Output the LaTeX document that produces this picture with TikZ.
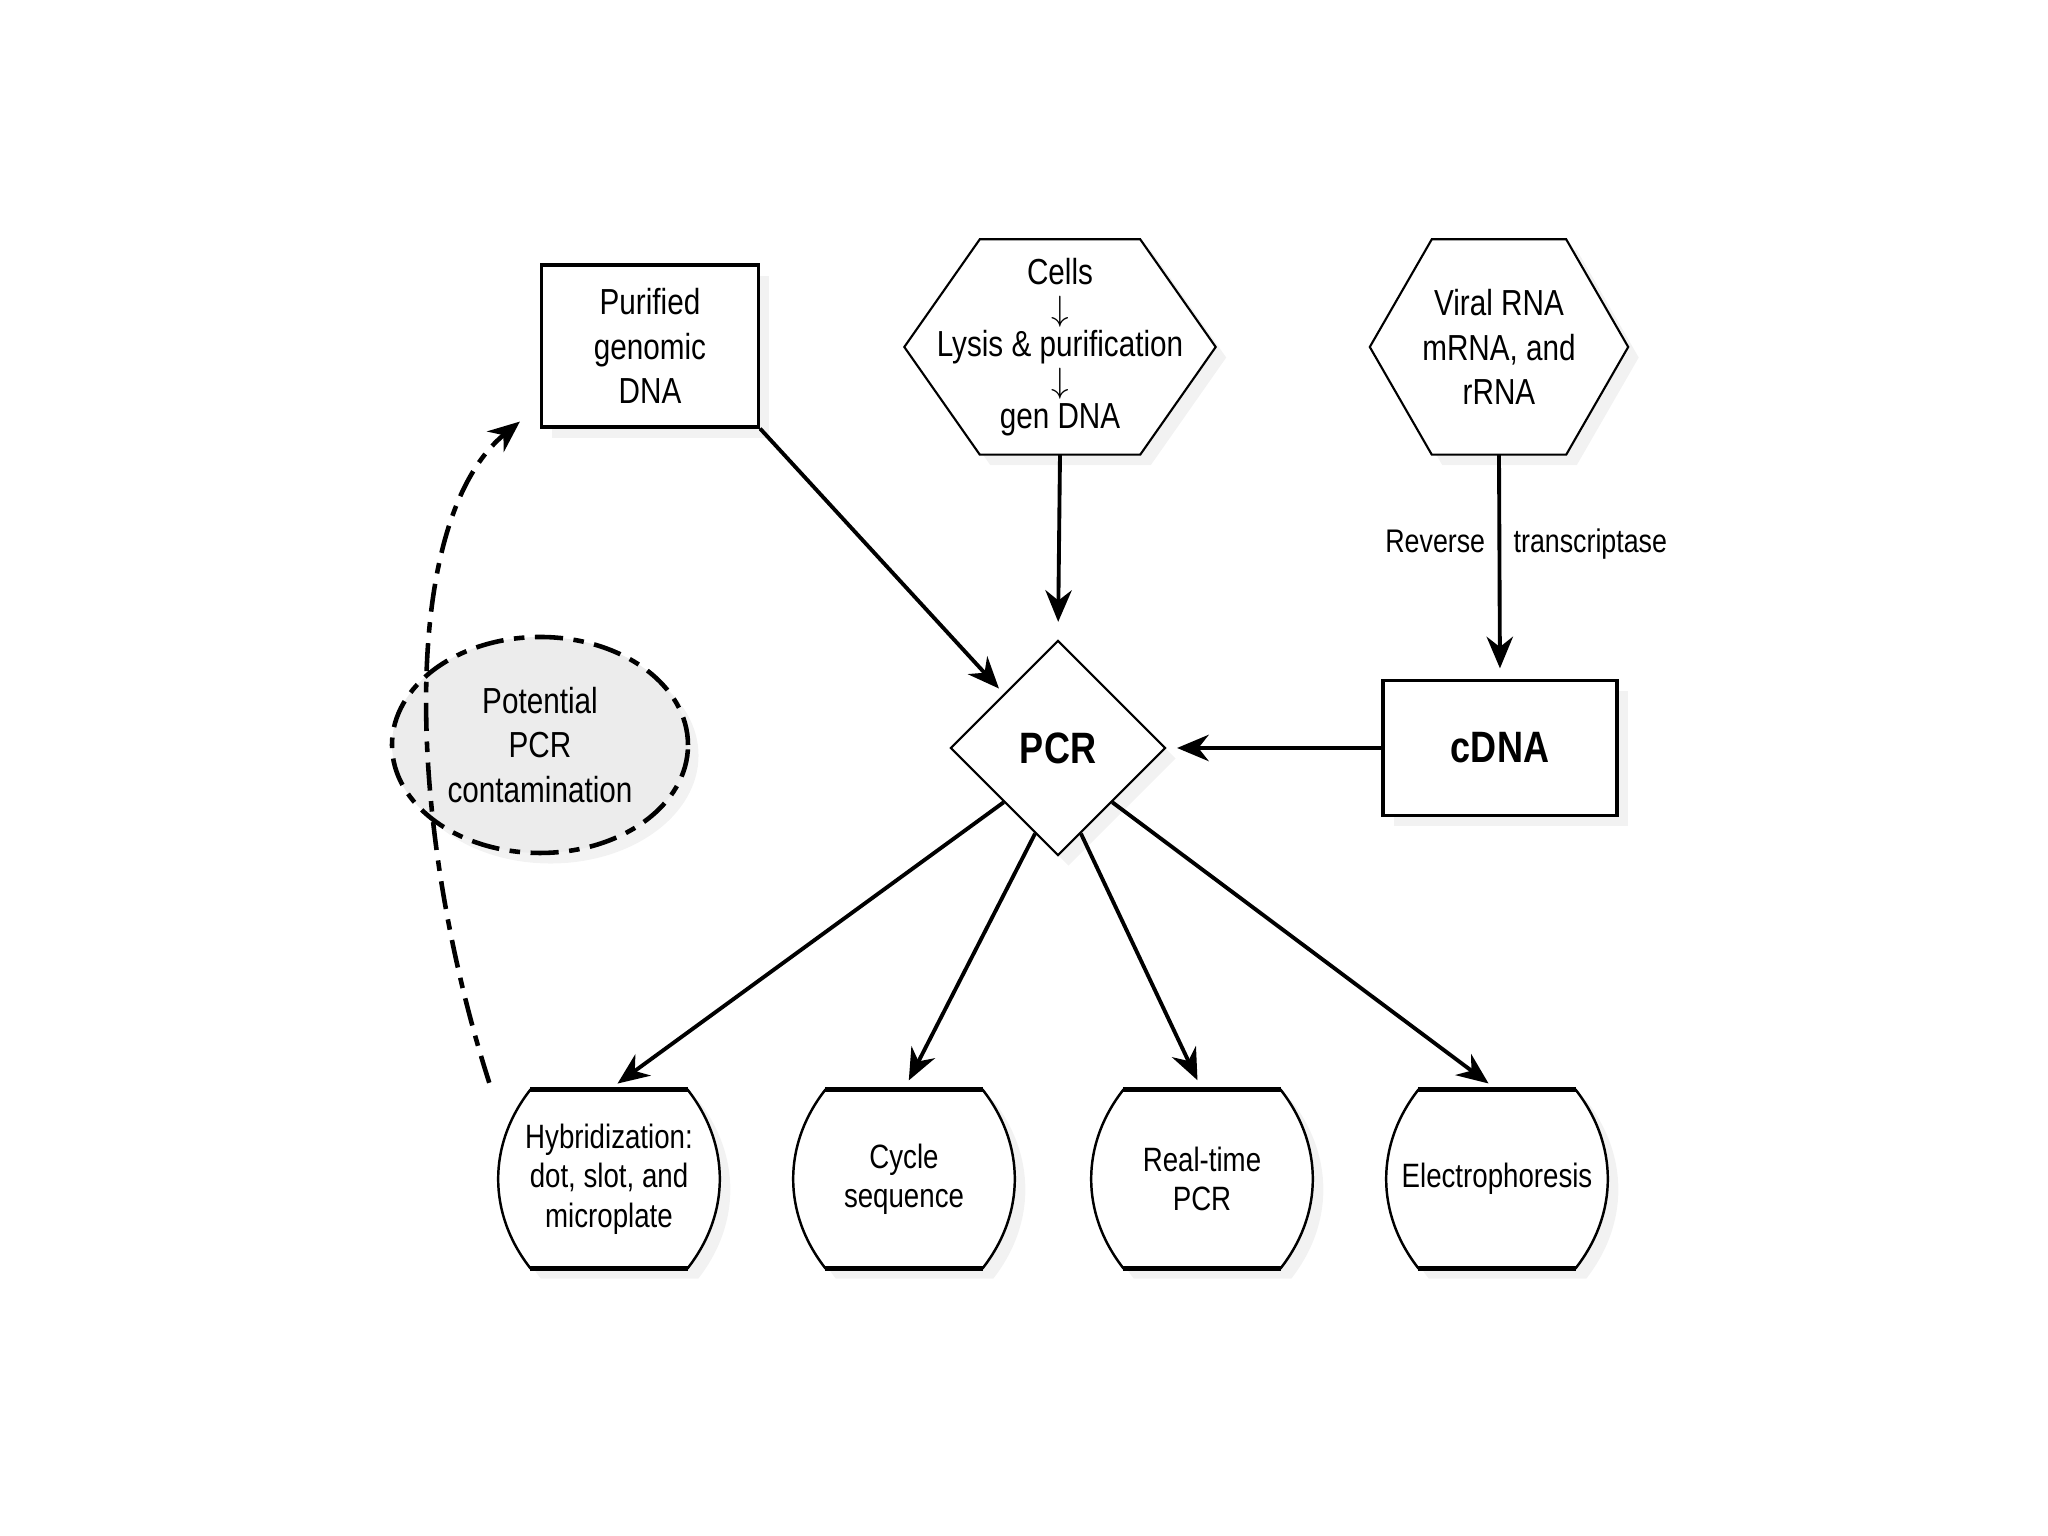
\documentclass[tikz,border=0pt]{standalone}
\usepackage{fontspec}
\setmainfont{Liberation Sans}[FakeStretch=0.82]
\usetikzlibrary{arrows.meta,shapes.geometric,shadows,backgrounds}

\begin{document}
\begin{tikzpicture}[>={Stealth[length=9pt,width=7.5pt]},
  soft/.style={drop shadow={opacity=0.1,shadow xshift=3pt,shadow yshift=-3pt}},
  txt/.style={font=\fontsize{10.3}{12.6}\selectfont,align=center},
  box/.style={draw,line width=0.9pt,fill=white,soft,inner sep=0pt,txt},
  hexa/.style={minimum height=2.14cm,inner sep=0pt,txt},
  outcome/.style={minimum width=2.2cm,minimum height=1.77cm,inner sep=0pt,align=center,font=\fontsize{9.6}{11.2}\selectfont},
  flow/.style={->,line width=1.1pt},
  lbl/.style={inner sep=3.5pt,text height=1.5ex,text depth=0.4ex,font=\fontsize{9.3}{11}\selectfont},
  dashline/.style={line width=1.3pt,dash pattern=on 8pt off 3pt on 3pt off 3pt}]
\useasboundingbox (0,0) rectangle (20.48,15.36);
% sources
\node[box,minimum width=2.17cm,minimum height=1.62cm] (pur) at (6.50,11.90) {Purified\\genomic\\DNA};
\node[hexa,minimum width=3.10cm,font=\fontsize{10.3}{10.2}\selectfont] (cells) at (10.60,11.89)
  {Cells\\$\downarrow$\\Lysis \& purification\\$\downarrow$\\gen DNA};
\node[hexa,minimum width=2.57cm] (viral) at (14.99,11.89) {Viral RNA\\mRNA, and\\rRNA};
% middle row
\node[draw,diamond,aspect=1,line width=0.6pt,fill=white,soft,minimum width=2.15cm,minimum height=2.15cm,inner sep=0pt,
  font=\fontsize{12.5}{15}\selectfont\bfseries] (pcr) at (10.58,7.88) {PCR};
\node[box,minimum width=2.34cm,minimum height=1.35cm,font=\fontsize{12.5}{15}\selectfont\bfseries] (cdna) at (15.00,7.88) {cDNA};
\node[ellipse,draw,fill=gray!15,dashline,soft,minimum width=2.96cm,minimum height=2.16cm,inner sep=0pt,txt] (contam) at (5.40,7.91)
  {Potential\\PCR\\contamination};
% detection methods
\node[outcome] (hyb) at (6.09,3.57) {Hybridization:\\dot, slot, and\\microplate};
\node[outcome] (cyc) at (9.04,3.57) {Cycle\\sequence};
\node[outcome] (rt) at (12.02,3.57) {Real-time\\PCR};
\node[outcome] (elec) at (14.97,3.57) {Electrophoresis};
\begin{scope}[on background layer]
\foreach \n/\a in {cells/0.755,viral/0.62}
  \draw[line width=0.6pt,fill=white,soft] (\n.west) -- ([xshift=\a cm]\n.north west) -- ([xshift=-\a cm]\n.north east)
    -- (\n.east) -- ([xshift=-\a cm]\n.south east) -- ([xshift=\a cm]\n.south west) -- cycle;
\foreach \n in {hyb,cyc,rt,elec} {
  \draw[line width=0.7pt,fill=white,soft] ([xshift=0.32cm]\n.north west) to[bend right=38] ([xshift=0.32cm]\n.south west)
    -- ([xshift=-0.32cm]\n.south east) to[bend right=38] ([xshift=-0.32cm]\n.north east) -- cycle;
  \draw[line width=1.4pt] ([xshift=0.32cm]\n.north west) -- ([xshift=-0.32cm]\n.north east);
  \draw[line width=1.4pt] ([xshift=0.32cm]\n.south west) -- ([xshift=-0.32cm]\n.south east);
}
\end{scope}
% arrows
\draw[flow,shorten >=2pt] (pur.south east) -- (pcr.north west);
\draw[flow,shorten >=5pt] (cells.south) -- (pcr.north);
\draw[flow,shorten >=3pt] (viral.south) -- (cdna.north)
  node[pos=0.39,left,lbl] {Reverse}
  node[pos=0.39,right,lbl] {transcriptase};
\draw[flow,shorten >=3pt] (cdna.west) -- (pcr.east);
\draw[flow,shorten >=3pt] (pcr.south west) -- (hyb.north);
\draw[flow,shorten >=3pt] (pcr.255) -- (cyc.north);
\draw[flow,shorten >=3pt] (pcr.285) -- (rt.north);
\draw[flow,shorten >=3pt] (pcr.south east) -- (elec.north);
\draw[dashline,->] ([shift={(-0.09,0.07)}]hyb.north west) .. controls (4.05,7.16) and (4.00,10.16) .. ([shift={(-0.2,0.07)}]pur.south west);
\end{tikzpicture}
\end{document}
